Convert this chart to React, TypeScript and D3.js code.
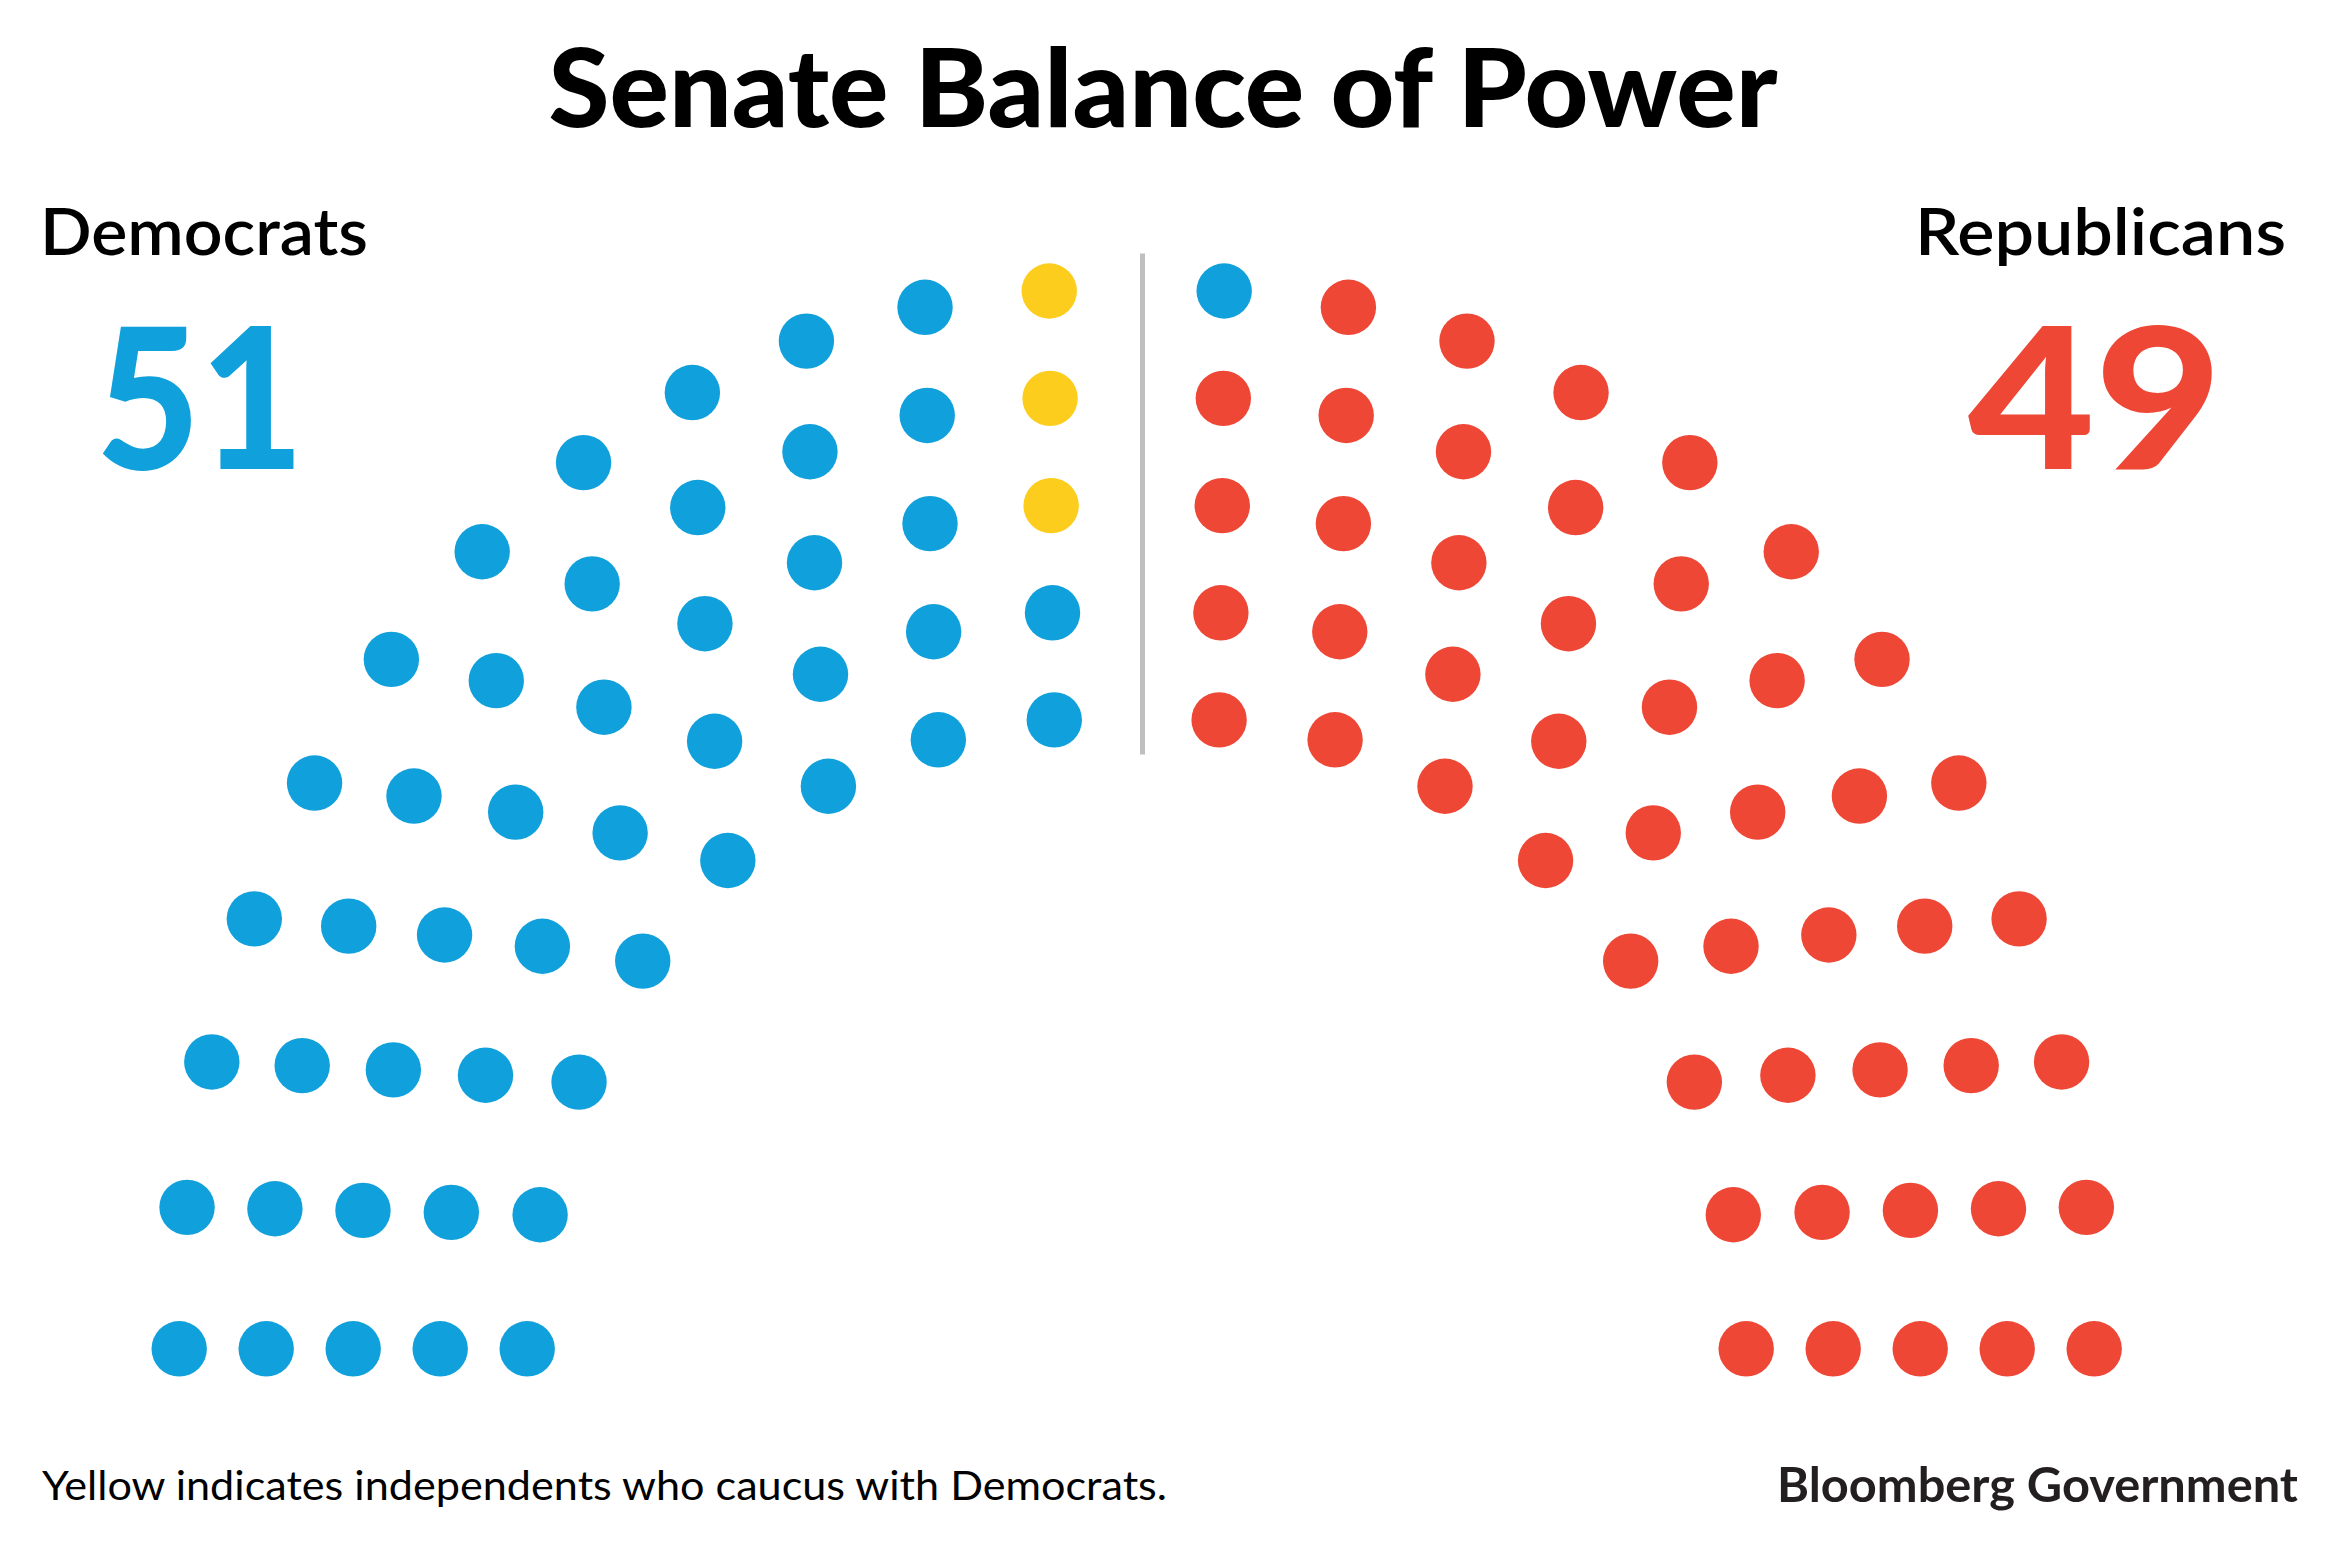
import React from "react";
import * as d3 from "d3";

// ---- data ----
const TITLE = "Senate Balance of Power";
const SEATS_PER_ROW = [24, 22, 20, 18, 16]; // outer row to inner row
// seats are filled in order of their angle, from the left end to the right end
const SEAT_PARTIES = ["Democrat", "Independent", "Democrat", "Republican"];
const SEAT_COUNTS = [47, 3, 1, 49];
const PARTY_COLORS: Record<string, string> = {
  Democrat: "#10a0db",
  Independent: "#fccd1c",
  Republican: "#ee4736",
};
const SIDE_LABELS = ["Democrats", "Republicans"];
const SIDE_TOTALS = [51, 49];
const NOTE = "Yellow indicates independents who caucus with Democrats.";
const CREDIT = "Bloomberg Government";

const FONT = "Lato, 'Open Sans', 'DejaVu Sans', sans-serif";

export default function App() {
  const W = 2338;
  const H = 1543;
  const cx = 1136.7;
  const halfGap = 21.5;
  const cy = 1348.8;
  const dotR = 27.7;
  const nRows = SEATS_PER_ROW.length;
  const rad = (deg: number) => (deg * Math.PI) / 180;

  // horizontal (bottom) radius, vertical (top) radius, angular warp and shoulder bulge per row
  const aScale = d3.scaleLinear().domain([0, nRows - 1]).range([936, 588]);
  const bScale = d3.scaleLinear().domain([0, nRows - 1]).range([1059, 629]);
  const warpScale = d3.scaleLinear().domain([0, nRows - 1]).range([4.6, 3.6]);
  const bulgeScale = d3.scaleLinear().domain([0, nRows - 1]).range([7, 11]);

  type Seat = { row: number; i: number; u: number; x: number; y: number; party?: string };
  const seats: Seat[] = [];
  SEATS_PER_ROW.forEach((n, row) => {
    const ang = d3.scaleLinear().domain([0, n - 1]).range([0, 180]);
    const a = aScale(row);
    const b = bScale(row);
    const warp = warpScale(row);
    const bulge = bulgeScale(row);
    for (let i = 0; i < n; i++) {
      const u = ang(i);
      const s2u = Math.sin(rad(2 * u));
      const phiDeg = u + warp * Math.sign(s2u) * Math.pow(Math.abs(s2u), 1.3);
      const phi = rad(phiDeg);
      const s = Math.sin(phi);
      const c = Math.abs(Math.cos(phi));
      const r = a + (b - a) * s * s + bulge * 3.08 * s * s * s * c;
      const side = u < 90 ? -1 : 1;
      const x = cx + side * halfGap - r * Math.cos(phi);
      const y = cy - r * s;
      seats.push({ row, i, u, x, y });
    }
  });
  const ordered = seats.slice().sort((p, q) => p.u - q.u);
  const partyList = d3.merge(SEAT_PARTIES.map((p, k) => d3.range(SEAT_COUNTS[k]).map(() => p)));
  ordered.forEach((s, k) => (s.party = partyList[k]));

  return (
    <svg
      width={W}
      height={H}
      viewBox={`0 0 ${W} ${H}`}
      style={{ position: "absolute", left: 0, top: 0, display: "block", background: "#fff" }}
    >
      <rect x={0} y={0} width={W} height={H} fill="#fff" />
      <text x={1163} y={126.5} textAnchor="middle" fontFamily={FONT} fontWeight={900} fontSize={108}
        fill="#000" textLength={1229} lengthAdjust="spacingAndGlyphs">
        {TITLE}
      </text>

      <text x={40} y={255} fontFamily={FONT} fontWeight={600} fontSize={66} fill="#000"
        textLength={328} lengthAdjust="spacingAndGlyphs">
        {SIDE_LABELS[0]}
      </text>
      <text x={2286} y={255} textAnchor="end" fontFamily={FONT} fontWeight={600} fontSize={66} fill="#000"
        textLength={371} lengthAdjust="spacingAndGlyphs">
        {SIDE_LABELS[1]}
      </text>
      <text x={96} y={469} fontFamily={FONT} fontWeight={900} fontSize={196} fill={PARTY_COLORS.Democrat}
        textLength={208} lengthAdjust="spacingAndGlyphs">
        {SIDE_TOTALS[0]}
      </text>
      <text x={2222} y={469} textAnchor="end" fontFamily={FONT} fontWeight={900} fontSize={196}
        fill={PARTY_COLORS.Republican} textLength={254} lengthAdjust="spacingAndGlyphs">
        {SIDE_TOTALS[1]}
      </text>

      <line x1={1142.5} x2={1142.5} y1={253.5} y2={754.5} stroke="#bfbfbf" strokeWidth={5} />

      {seats.map((s) => (
        <circle key={`${s.row}-${s.i}`} cx={s.x} cy={s.y} r={dotR} fill={PARTY_COLORS[s.party as string]} />
      ))}

      <text x={42} y={1500} fontFamily={FONT} fontWeight={400} fontSize={40} fill="#000"
        textLength={1125} lengthAdjust="spacingAndGlyphs">
        {NOTE}
      </text>
      <text x={2298} y={1501.5} textAnchor="end" fontFamily={FONT} fontWeight={700} fontSize={48} fill="#231f20"
        textLength={521} lengthAdjust="spacingAndGlyphs">
        {CREDIT}
      </text>
    </svg>
  );
}
